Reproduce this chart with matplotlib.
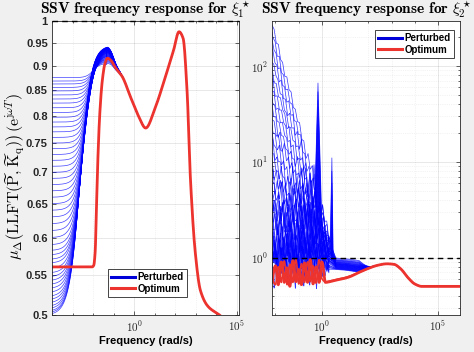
import numpy as np
import matplotlib
matplotlib.use('Agg')
import matplotlib.pyplot as plt
from matplotlib.lines import Line2D
from matplotlib.ticker import FixedLocator, NullFormatter, FixedFormatter

# ---------------- Left panel data (log10 frequency, SSV value) ----------------
left_red_logw = [-4.3, -2.05, -1.97, -1.9, -1.84, -1.77, -1.68, -1.55, -1.42, -1.3, -1.15,
                 -0.9, -0.58, -0.16, 0.2, 0.56, 1.04, 1.52, 1.92, 2.18, 2.38, 2.57,
                 2.74, 2.97, 3.22, 3.6, 4.15, 4.6, 5.2]
left_red_mu = [0.56, 0.56, 0.562, 0.58, 0.64, 0.72, 0.8, 0.87, 0.905, 0.916, 0.912,
               0.895, 0.877, 0.834, 0.80, 0.777, 0.817, 0.877, 0.934, 0.975, 0.96, 0.85,
               0.687, 0.58, 0.53, 0.51, 0.50, 0.49, 0.48]
left_blue_levels = [0.875, 0.868, 0.862, 0.855, 0.848, 0.84, 0.832, 0.824, 0.815, 0.806,
                    0.797, 0.788, 0.779, 0.77, 0.76, 0.75, 0.74, 0.73, 0.72, 0.71, 0.70,
                    0.69, 0.68, 0.67, 0.66, 0.65, 0.64, 0.63, 0.62, 0.61, 0.60, 0.59,
                    0.582, 0.576, 0.57, 0.565, 0.558, 0.552, 0.547, 0.542, 0.537, 0.532,
                    0.527, 0.522, 0.518, 0.514, 0.51, 0.507, 0.504, 0.502, 0.50]
left_blue_peaks = [0.905, 0.908, 0.91, 0.912, 0.914, 0.915, 0.917, 0.918, 0.92, 0.921,
                   0.922, 0.923, 0.924, 0.925, 0.926, 0.927, 0.928, 0.929, 0.93, 0.93,
                   0.931, 0.932, 0.932, 0.933, 0.934, 0.934, 0.935, 0.935, 0.936, 0.936,
                   0.937, 0.937, 0.938, 0.938, 0.939, 0.939, 0.939, 0.94, 0.94, 0.94,
                   0.941, 0.941, 0.941, 0.942, 0.942, 0.942, 0.943, 0.943, 0.943, 0.944, 0.944]

# ---------------- Right panel data ----------------
right_red_logw = [-2.15, -2.0, -1.88, -1.75, -1.62, -1.5, -1.38, -1.25, -1.12, -1.0,
                  -0.88, -0.75, -0.62, -0.5, -0.38, -0.25, -0.12, 0.0, 0.15, 0.35, 0.6,
                  0.9, 1.2, 1.6, 2.0, 2.4, 2.8, 3.1, 3.4, 3.7, 4.0, 4.3, 5.0, 6.0]
right_red_mu = [0.55, 0.82, 0.52, 0.9, 0.55, 0.78, 0.5, 0.93, 0.56, 0.75, 0.52, 0.88,
                0.55, 0.95, 0.53, 0.8, 0.55, 0.9, 0.55, 0.56, 0.58, 0.6, 0.63, 0.7, 0.77,
                0.83, 0.86, 0.85, 0.76, 0.62, 0.53, 0.5, 0.5, 0.5]
right_red2_mu = [0.6, 0.52, 0.8, 0.55, 0.92, 0.52, 0.85, 0.55, 0.95, 0.53, 0.86, 0.55,
                 0.9, 0.56, 0.82, 0.54, 0.95, 0.6, 0.56, 0.57, 0.59, 0.61, 0.64, 0.7,
                 0.77, 0.83, 0.86, 0.85, 0.76, 0.62, 0.53, 0.5, 0.5, 0.5]
right_blue_start = [268, 215, 175, 140, 112, 90, 72, 58, 46, 37, 30, 24, 19, 15.5, 12.5,
                    10, 8.2, 6.8, 5.6, 4.6, 3.8, 3.2, 2.7, 2.3, 2.0, 1.8, 1.6, 1.45, 1.3,
                    1.2, 1.1, 1.0, 0.92, 0.85, 0.8, 0.75]
right_blue_floor = [3.5, 2.2, 5.0, 1.6, 2.8, 4.2, 1.3, 2.0, 3.0, 6.0, 1.8, 2.5, 1.2, 3.8,
                    1.5, 2.3, 4.5, 1.1, 2.7, 1.9, 3.3, 1.4, 2.1, 1.7, 2.6, 1.25, 1.5, 1.35,
                    1.2, 1.15, 1.05, 0.95, 0.9, 0.85, 0.8, 0.75]
right_blue_spike = [68, 55, 45, 38, 30, 25, 20, 16, 13, 11, 9, 7.5, 6, 5, 4.2, 3.5, 3,
                    2.6, 2.3, 2, 1.8, 1.6, 1.5, 1.4, 1.3, 1.2, 1.1, 1.0, 1.0, 0.9, 0.9,
                    0.8, 0.8, 0.8, 0.7, 0.7]
right_blue_spike2 = [11, 8, 6, 4.5, 3.5, 2.8, 2.2, 1.8, 1.5, 1.3, 1.2, 1.1, 1.0, 1.0, 0.9,
                     0.9, 0.9, 0.8, 0.8, 0.8, 0.7, 0.7, 0.7, 0.7, 0.6, 0.6, 0.6, 0.6, 0.6,
                     0.6, 0.5, 0.5, 0.5, 0.5, 0.5, 0.5]
right_blue_tail = [1.0, 0.98, 0.96, 0.95, 0.94, 0.93, 0.92, 0.91, 0.9, 0.9, 0.89, 0.88,
                   0.88, 0.87, 0.87, 0.86, 0.86, 0.85, 0.85, 0.84, 0.84, 0.83, 0.83, 0.82,
                   0.82, 0.81, 0.81, 0.8, 0.8, 0.79, 0.79, 0.78, 0.78, 0.77, 0.77, 0.76]
ripple_pattern = [0.0, 0.18, -0.12, 0.22, -0.15, 0.1, -0.2, 0.16, -0.08, 0.2, -0.18, 0.12,
                  -0.1, 0.24, -0.16, 0.08, -0.22, 0.14, -0.06, 0.19, -0.14, 0.11,
                  -0.17, 0.2, -0.1, 0.15, -0.2, 0.12, -0.12, 0.18]

left_xticks = [1e0, 1e5]
left_yticks = [0.5, 0.55, 0.6, 0.65, 0.7, 0.75, 0.8, 0.85, 0.9, 0.95, 1.0]
right_xticks = [1e0, 1e5]
right_yticks = [1e0, 1e1, 1e2]


def pchip(xk, yk, x):
    xk = np.asarray(xk, float)
    yk = np.asarray(yk, float)
    h = np.diff(xk)
    d = np.diff(yk) / h
    m = np.zeros_like(yk)
    for k in range(1, len(xk) - 1):
        if d[k - 1] * d[k] > 0:
            w1 = 2 * h[k] + h[k - 1]
            w2 = h[k] + 2 * h[k - 1]
            m[k] = (w1 + w2) / (w1 / d[k - 1] + w2 / d[k])
    m[0] = d[0]
    m[-1] = d[-1]
    idx = np.clip(np.searchsorted(xk, x) - 1, 0, len(h) - 1)
    t = (x - xk[idx]) / h[idx]
    h00 = 2 * t**3 - 3 * t**2 + 1
    h10 = t**3 - 2 * t**2 + t
    h01 = -2 * t**3 + 3 * t**2
    h11 = t**3 - t**2
    return (h00 * yk[idx] + h10 * h[idx] * m[idx] + h01 * yk[idx + 1]
            + h11 * h[idx] * m[idx + 1])


plt.rcParams['font.family'] = ['Liberation Sans', 'DejaVu Sans']
plt.rcParams['mathtext.fontset'] = 'cm'

fig = plt.figure(figsize=(4.74, 3.52), dpi=100, facecolor='#f0f0f0')
W, H = 474.0, 352.0
axL = fig.add_axes([52 / W, 1 - 315 / H, (239 - 52) / W, (315 - 21) / H])
axR = fig.add_axes([272 / W, 1 - 315 / H, (460 - 272) / W, (315 - 21) / H])

BLUE = (0.0, 0.0, 1.0)
RED = (0.93, 0.2, 0.18)

# ---- left panel curves ----
lw = np.linspace(-4.3, 5.2, 1200)
w = 10 ** lw
red_left = pchip(left_red_logw, left_red_mu, lw)
for L, P in zip(left_blue_levels, left_blue_peaks):
    c = -2.55 + (L - 0.5) * 1.5
    wd = 0.26 - (L - 0.5) * 0.25
    s = 1 / (1 + np.exp(-(lw - c) / wd))
    bump = np.where(lw <= -1.35, 1.0, np.exp(-((lw + 1.35) / 0.45) ** 2))
    B = np.where(lw <= -1.35, P, red_left + (P - 0.916) * bump)
    y = L + (B - L) * s
    axL.plot(w, y, color=BLUE, lw=0.5, alpha=0.75)
axL.plot(w, red_left, color=RED, lw=2.0)
axL.axhline(1.0, color='k', ls='--', lw=1.0, dashes=(4, 3), clip_on=False, zorder=5)

# ---- right panel curves ----
rw = np.linspace(-2.15, 5.95, 1800)
wr = 10 ** rw
rp = np.array(ripple_pattern)
xp = np.linspace(-2.15, 0.5, len(rp))
red_r1 = pchip(right_red_logw, right_red_mu, rw)
red_r2 = pchip(right_red_logw, right_red2_mu, rw)
for i, (S, F, Sp, Sp2, T) in enumerate(zip(right_blue_start, right_blue_floor,
                                          right_blue_spike, right_blue_spike2,
                                          right_blue_tail)):
    slope_part = np.log10(S) - 0.9 * (rw + 2.15)
    base = np.maximum(slope_part, np.log10(F))
    near = np.clip(1 - (slope_part - np.log10(F)) / 0.8, 0, 1)
    rip = np.interp(rw + 0.05 * (i % 5), xp, np.roll(rp, i))
    amp = (0.3 + 0.7 * near) * (0.7 + 0.1 * (i % 4))
    rip = np.where(rw < 0.3, rip, 0.0) * amp
    ly = base + rip
    tail = np.log10(pchip([0.3, 1.0, 1.6, 2.2, 2.6, 6.0],
                          [T, T * 0.97, T * 0.93, 0.83, 0.84, 0.84], rw))
    t = np.clip((rw + 0.3) / 0.9, 0, 1)
    ly = ly * (1 - t) + tail * t
    t2 = np.clip((rw - 1.6) / 0.8, 0, 1)
    ly = ly * (1 - t2) + np.log10(red_r1) * t2
    ly = np.maximum(ly, np.log10(Sp) - 9.0 * np.abs(rw + 0.17))
    ly = np.maximum(ly, np.log10(Sp2) - 12.0 * np.abs(rw - 0.43) - 8 * np.maximum(rw - 0.43, 0))
    axR.plot(wr, 10 ** ly, color=BLUE, lw=0.5, alpha=0.8)
axR.plot(wr, red_r2, color=RED, lw=1.2)
axR.plot(wr, red_r1, color=RED, lw=2.0)
axR.axhline(1.0, color='k', ls='--', lw=1.0, dashes=(4, 3), zorder=5)

# ---- axes styling ----
for ax in (axL, axR):
    ax.set_xscale('log')
    ax.set_yscale('log')
    ax.set_facecolor('white')
    for sp in ax.spines.values():
        sp.set_color('0.15')
        sp.set_linewidth(0.6)
    ax.tick_params(which='both', direction='in', colors='0.15', labelsize=8,
                   top=True, right=True, width=0.5, pad=3)
    ax.tick_params(which='major', length=3)
    ax.tick_params(which='minor', length=1.5)
    ax.grid(True, which='major', color='0.15', alpha=0.15, lw=0.5)
    ax.grid(True, which='minor', color='0.15', alpha=0.1, lw=0.5, ls=':')
    ax.set_xlabel('Frequency (rad/s)', fontsize=8, fontweight='bold', labelpad=1)

axL.set_xlim(1e-4, 10 ** 5.1)
axL.set_ylim(0.5, 1.0)
axL.xaxis.set_major_locator(FixedLocator(left_xticks))
axL.xaxis.set_major_formatter(FixedFormatter([r'$\mathbf{10^{0}}$', r'$\mathbf{10^{5}}$']))
axL.xaxis.set_minor_locator(FixedLocator([10.0 ** k for k in range(-4, 6)]))
axL.xaxis.set_minor_formatter(NullFormatter())
axL.yaxis.set_major_locator(FixedLocator(left_yticks))
axL.yaxis.set_major_formatter(FixedFormatter(['%g' % v for v in left_yticks]))
axL.yaxis.set_minor_locator(FixedLocator([]))
axL.yaxis.set_minor_formatter(NullFormatter())

axR.set_xlim(10 ** -2.15, 10 ** 5.95)
axR.set_ylim(10 ** -0.6, 10 ** 2.47)
axR.xaxis.set_major_locator(FixedLocator(right_xticks))
axR.xaxis.set_major_formatter(FixedFormatter([r'$\mathbf{10^{0}}$', r'$\mathbf{10^{5}}$']))
axR.xaxis.set_minor_locator(FixedLocator([10.0 ** k for k in range(-2, 6)]))
axR.xaxis.set_minor_formatter(NullFormatter())
axR.yaxis.set_major_locator(FixedLocator(right_yticks))
axR.yaxis.set_major_formatter(FixedFormatter([r'$\mathbf{10^{0}}$', r'$\mathbf{10^{1}}$',
                                              r'$\mathbf{10^{2}}$']))
axR.yaxis.set_minor_locator(FixedLocator([m * 10.0 ** k for k in range(-1, 3)
                                          for m in range(2, 10)]))
axR.yaxis.set_minor_formatter(NullFormatter())

for ax in (axL, axR):
    for lab in ax.get_xticklabels() + ax.get_yticklabels():
        lab.set_fontweight('bold')

title_kw = dict(fontsize=11.2, pad=5)
axL.set_title(r'$\mathbf{SSV\ frequency\ response\ for}\ \xi_1^\star$', **title_kw)
axR.set_title(r'$\mathbf{SSV\ frequency\ response\ for}\ \xi_2^\star$', **title_kw)
axL.set_ylabel(r'$\mu_\Delta\left(\mathrm{LLFT}(\widetilde{\mathrm{P}},\widetilde{\mathrm{K}}_\mathrm{q})\right)\,(\mathrm{e}^{\mathrm{j}\omega T})$',
               fontsize=11.5, labelpad=0)
axL.yaxis.set_label_coords(-0.135, 0.47)

handles = [Line2D([], [], color=(0.0, 0.0, 0.85), lw=2.2),
           Line2D([], [], color=RED, lw=2.2)]
legkw = dict(prop=dict(size=7, weight='bold'), handlelength=2.4, handletextpad=0.3,
             borderpad=0.35, labelspacing=0.15, fancybox=False, edgecolor='0.15',
             framealpha=1, borderaxespad=0)
legL = axL.legend(handles, ['Perturbed', 'Optimum'], loc='lower left',
                  bbox_to_anchor=((108 - 52) / 187, (315 - 297) / 294), **legkw)
legL.get_frame().set_linewidth(0.6)
legR = axR.legend(handles, ['Perturbed', 'Optimum'], loc='upper left',
                  bbox_to_anchor=((375 - 272) / 188, (315 - 30) / 294), **legkw)
legR.get_frame().set_linewidth(0.6)

fig.savefig('out.png', dpi=100, facecolor=fig.get_facecolor())
